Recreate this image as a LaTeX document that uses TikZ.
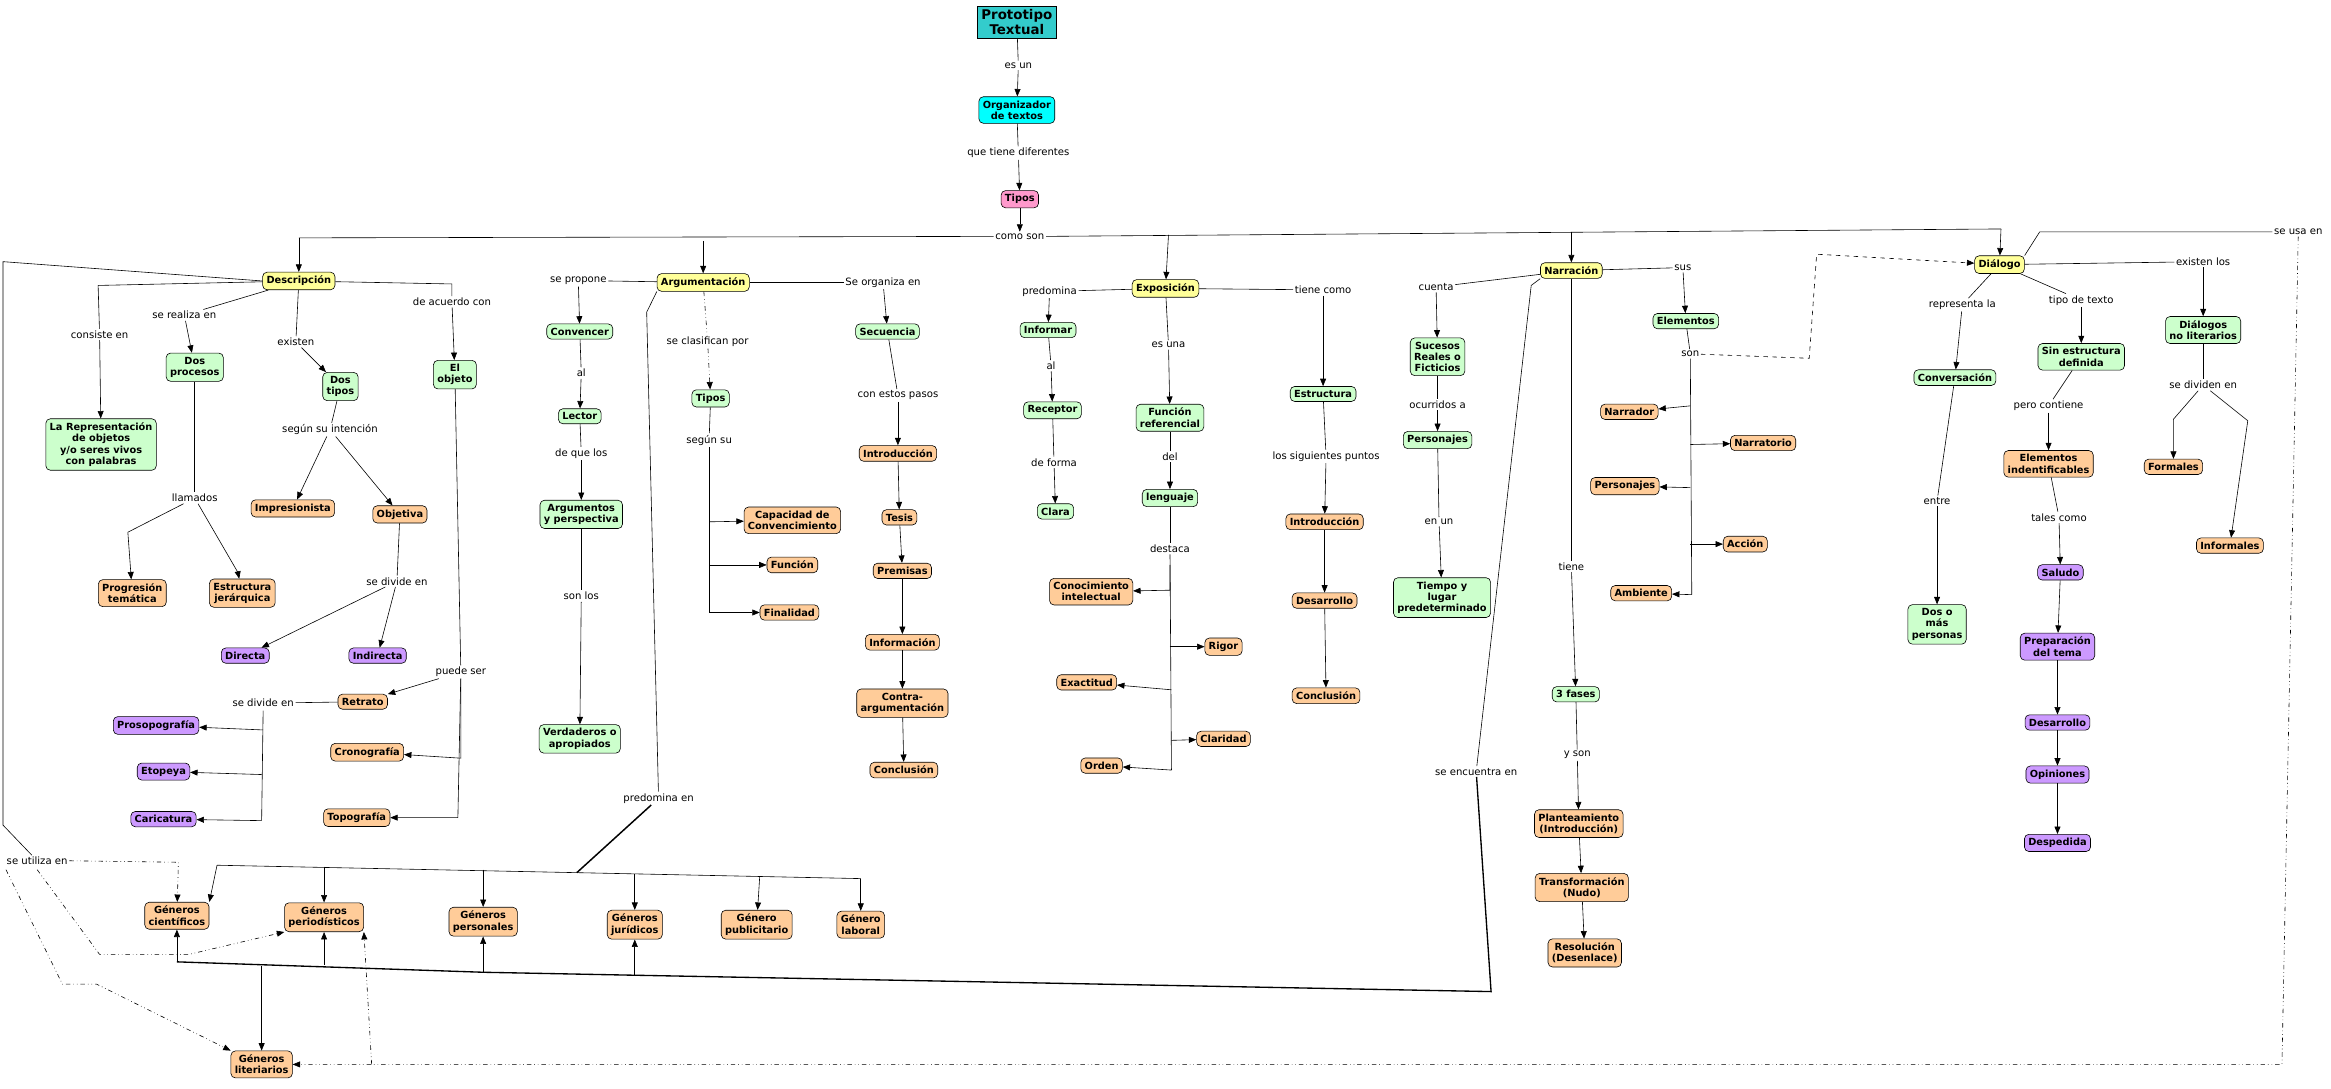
\documentclass[tikz,border=0pt]{standalone}
\usepackage{fontspec}
\setmainfont{DejaVu Sans}
\usetikzlibrary{arrows.meta}
\definecolor{cy}{HTML}{FFFF99}
\definecolor{cg}{HTML}{CCFFCC}
\definecolor{co}{HTML}{FFCC99}
\definecolor{cp}{HTML}{CC99FF}
\definecolor{cc}{HTML}{00FFFF}
\definecolor{cpk}{HTML}{FF99CC}
\definecolor{ct}{HTML}{33CCCC}
\begin{document}
\begin{tikzpicture}[x=1pt,y=-1pt,
 b/.style={draw,rounded corners=3pt,align=center,inner sep=2.6pt,font=\bfseries\fontsize{6.6}{7.6}\selectfont},
 Y/.style={b,fill=cy},G/.style={b,fill=cg},O/.style={b,fill=co},P/.style={b,fill=cp},
 l/.style={fill=white,inner sep=1pt,font=\fontsize{6.8}{8}\selectfont},
 a/.style={-{Triangle[length=5pt,width=4pt]}},
 dd/.style={dash dot dot}]
\useasboundingbox (0,0) rectangle (1568,732);
% top
\node[b,fill=ct,rounded corners=0,font=\bfseries\fontsize{9}{10}\selectfont] (title) at (684,15) {Prototipo\\Textual};
\node[b,fill=cc] (org) at (684,74) {Organizador\\de textos};
\node[b,fill=cpk] (tipos) at (686,134) {Tipos};
\node[l] (esun) at (685,44) {es un};
\node[l] (qtd) at (685,103) {que tiene diferentes};
\node[l] (comoson) at (686,159) {como son};
\draw (title) -- (esun); \draw[a] (esun) -- (org);
\draw (org) -- (qtd); \draw[a] (qtd) -- (tipos);
\draw[a] (tipos) -- (comoson);
% main nodes
\node[Y] (desc) at (201,189) {Descripción};
\node[Y] (arg) at (473,190) {Argumentación};
\node[Y] (exp) at (784,194) {Exposición};
\node[Y] (nar) at (1057,182) {Narración};
\node[Y] (dia) at (1345,178) {Diálogo};
\draw (comoson.west) -- (201,160); \draw[a] (201,160) -- (desc);
\draw (comoson.east) -- (1346,154);
\draw[a] (473,162) -- (arg); \draw[a] (786,158) -- (exp); \draw[a] (1057,156) -- (nar); \draw[a] (1346,154) -- (dia);
\node[l] (seusa) at (1546,156) {se usa en};
\draw (dia.north east) -- (1372,156) -- (seusa);
% ---------- Descripción
\node[G] (rep) at (68,299) {La Representación\\de objetos\\y/o seres vivos\\con palabras};
\node[G] (dosp) at (131,247) {Dos\\procesos};
\node[G] (dost) at (229,260) {Dos\\tipos};
\node[G] (obj) at (306,252) {El\\objeto};
\node[l] (consiste) at (67,225) {consiste en};
\node[l] (serealiza) at (124,212) {se realiza en};
\node[l] (existen) at (199,230) {existen};
\node[l] (deacuerdo) at (304,203) {de acuerdo con};
\draw (desc) -- (66,192) -- (consiste); \draw[a] (consiste) -- (rep);
\draw (desc) -- (serealiza); \draw[a] (serealiza) -- (dosp);
\draw (desc) -- (existen); \draw[a] (existen) -- (dost);
\draw (desc) -- (304,191) -- (deacuerdo); \draw[a] (deacuerdo) -- (obj);
\node[O] (prog) at (89,399) {Progresión\\temática};
\node[O] (estj) at (163,399) {Estructura\\jerárquica};
\node[l] (llamados) at (131,335) {llamados};
\draw (dosp) -- (llamados); \draw[a] (llamados) -- (86,358) -- (prog); \draw[a] (llamados) -- (160,385) -- (estj);
\node[O] (imp) at (197,342) {Impresionista};
\node[O] (objv) at (269,346) {Objetiva};
\node[l] (segint) at (222,289) {según su intención};
\draw (dost) -- (segint); \draw[a] (segint) -- (imp); \draw[a] (segint) -- (objv);
\node[P] (dir) at (165,441) {Directa};
\node[P] (ind) at (254,441) {Indirecta};
\node[l] (sediv) at (267,391) {se divide en};
\draw (objv) -- (sediv); \draw[a] (sediv) -- (dir); \draw[a] (sediv) -- (ind);
\node[O] (ret) at (244,472) {Retrato};
\node[O] (cro) at (247,506) {Cronografía};
\node[O] (top) at (240,550) {Topografía};
\node[l] (puede) at (310,452) {puede ser};
\draw (obj) -- (puede); \draw[a] (puede) -- (ret); \draw[a] (puede) -- (310,510) -- (cro); \draw[a] (puede) -- (308,550) -- (top);
\node[P] (pros) at (105,488) {Prosopografía};
\node[P] (eto) at (110,519) {Etopeya};
\node[P] (car) at (110,551) {Caricatura};
\node[l] (sediv2) at (177,473) {se divide en};
\draw (ret) -- (sediv2); \draw (177,478) -- (176,552);
\draw[a] (177,491) -- (pros); \draw[a] (176,521) -- (eto); \draw[a] (176,552) -- (car);
% ---------- Géneros
\node[O] (gcie) at (119,616) {Géneros\\científicos};
\node[O] (gper) at (218,617) {Géneros\\periodísticos};
\node[O] (gpers) at (325,620) {Géneros\\personales};
\node[O] (gjur) at (427,622) {Géneros\\jurídicos};
\node[O] (gpub) at (509,622) {Género\\publicitario};
\node[O] (glab) at (579,622) {Género\\laboral};
\node[O] (glit) at (176,716) {Géneros\\literiarios};
\node[l] (seutil) at (25,579) {se utiliza en};
\draw (desc.west) -- (2,176) -- (2,555) -- (seutil);
\draw[dd,a] (seutil.east) -- (120,580) -- (gcie);
\draw[dd,a] (25,585) -- (67,642) -- (127,642) -- (gper.south west);
\draw[dd,a] (4,585) -- (42,662) -- (65,662) -- (glit.north west);
\draw[dd,a] (seusa) -- (1535,716) -- (glit);
\draw[dd,a] (250,716) -- (gper.south east);
% ---------- Argumentación
\node[G] (conv) at (390,223) {Convencer};
\node[G] (lect) at (390,280) {Lector};
\node[G] (argp) at (391,346) {Argumentos\\y perspectiva};
\node[G] (verd) at (390,497) {Verdaderos o\\apropiados};
\node[l] (sepro) at (389,189) {se propone};
\node[l] (al1) at (391,251) {al};
\node[l] (deque) at (391,305) {de que los};
\node[l] (sonlos) at (391,401) {son los};
\draw (arg) -- (sepro.east); \draw[a] (sepro) -- (conv);
\draw (conv) -- (al1); \draw[a] (al1) -- (lect);
\draw (lect) -- (deque); \draw[a] (deque) -- (argp);
\draw (argp) -- (sonlos); \draw[a] (sonlos) -- (verd);
\node[G] (tip2) at (478,268) {Tipos};
\node[l] (seclas) at (476,230) {se clasifican por};
\node[l] (segsu) at (477,296) {según su};
\draw[dd] (arg) -- (seclas); \draw[dd,a] (seclas) -- (tip2);
\node[O] (cap) at (533,350) {Capacidad de\\Convencimiento};
\node[O] (fun) at (533,380) {Función};
\node[O] (fin) at (531,412) {Finalidad};
\draw (tip2) -- (segsu); \draw (477,301) -- (477,412);
\draw[a] (477,351) -- (cap); \draw[a] (477,380) -- (fun); \draw[a] (477,412) -- (fin);
\node[G] (sec) at (597,223) {Secuencia};
\node[l] (seorg) at (594,190) {Se organiza en};
\draw (arg) -- (seorg); \draw[a] (seorg) -- (sec);
\node[l] (conest) at (604,266) {con estos pasos};
\node[O] (intro) at (604,305) {Introducción};
\node[O] (tesis) at (605,348) {Tesis};
\node[O] (prem) at (607,384) {Premisas};
\node[O] (info) at (607,432) {Información};
\node[O] (contra) at (607,473) {Contra-\\argumentación};
\node[O] (concl) at (608,518) {Conclusión};
\draw (sec) -- (conest); \draw[a] (conest) -- (intro);
\draw[a] (intro) -- (tesis); \draw[a] (tesis) -- (prem); \draw[a] (prem) -- (info); \draw[a] (info) -- (contra); \draw[a] (contra) -- (concl);
\node[l] (predom) at (443,537) {predomina en};
\draw (arg.south west) -- (435,210) -- (predom); \draw[line width=1pt] (predom) -- (388,587);
\draw (146,582) -- (388,587) -- (579,591);
\draw[a] (146,582) -- (gcie.north east); \draw[a] (218,583) -- (gper); \draw[a] (325,585) -- (gpers);
\draw[a] (427,588) -- (gjur); \draw[a] (511,590) -- (gpub); \draw[a] (579,591) -- (glab);
% ---------- Exposición
\node[G] (inf) at (705,222) {Informar};
\node[G] (rec) at (708,276) {Receptor};
\node[G] (cla) at (710,344) {Clara};
\node[l] (predo2) at (706,196) {predomina};
\node[l] (al2) at (707,246) {al};
\node[l] (defor) at (709,311) {de forma};
\draw (exp) -- (predo2); \draw[a] (predo2) -- (inf);
\draw (inf) -- (al2); \draw[a] (al2) -- (rec);
\draw (rec) -- (defor); \draw[a] (defor) -- (cla);
\node[G] (fref) at (787,281) {Función\\referencial};
\node[G] (leng) at (787,335) {lenguaje};
\node[l] (esuna) at (786,232) {es una};
\node[l] (del) at (787,307) {del};
\node[l] (dest) at (787,369) {destaca};
\draw (exp) -- (esuna); \draw[a] (esuna) -- (fref);
\draw (fref) -- (del); \draw[a] (del) -- (leng);
\draw (leng) -- (dest);
\node[O] (conint) at (734,398) {Conocimiento\\intelectual};
\node[O] (rig) at (823,435) {Rigor};
\node[O] (exa) at (731,459) {Exactitud};
\node[O] (clar) at (823,497) {Claridad};
\node[O] (ord) at (741,515) {Orden};
\draw (dest) -- (788,518);
\draw[a] (787,380) -- (787,397) -- (conint); \draw[a] (787,435) -- (rig); \draw[a] (788,464) -- (exa);
\draw[a] (788,498) -- (clar); \draw[a] (788,518) -- (ord);
\node[G] (est) at (890,265) {Estructura};
\node[l] (tienec) at (890,195) {tiene como};
\node[l] (lossig) at (892,307) {los siguientes puntos};
\draw (exp) -- (tienec); \draw[a] (tienec) -- (est);
\node[O] (in2) at (891,351) {Introducción};
\node[O] (des2) at (891,404) {Desarrollo};
\node[O] (con2) at (892,468) {Conclusión};
\draw (est) -- (lossig); \draw[a] (lossig) -- (in2); \draw[a] (in2) -- (des2); \draw[a] (des2) -- (con2);
% ---------- Narración
\node[G] (suc) at (967,240) {Sucesos\\Reales o\\Ficticios};
\node[G] (pers) at (967,296) {Personajes};
\node[G] (tyl) at (970,402) {Tiempo y\\lugar\\predeterminado};
\node[l] (cuenta) at (966,193) {cuenta};
\node[l] (ocurr) at (967,272) {ocurridos a};
\node[l] (enun) at (968,351) {en un};
\draw (nar) -- (cuenta); \draw[a] (cuenta) -- (suc);
\draw (suc) -- (ocurr); \draw[a] (ocurr) -- (pers);
\draw (pers) -- (enun); \draw[a] (enun) -- (tyl);
\node[G] (elem) at (1134,216) {Elementos};
\node[l] (sus) at (1132,180) {sus};
\node[l] (son) at (1137,238) {son};
\draw (nar) -- (sus); \draw[a] (sus) -- (elem);
\draw (elem) -- (son); \draw (son) -- (1138,400);
\node[O] (narr) at (1096,277) {Narrador};
\node[O] (nrt) at (1186,298) {Narratorio};
\node[O] (per2) at (1093,327) {Personajes};
\node[O] (acc) at (1174,366) {Acción};
\node[O] (amb) at (1104,399) {Ambiente};
\draw[a] (1137,273) -- (narr); \draw[a] (1137,299) -- (nrt); \draw[a] (1137,328) -- (per2);
\draw[a] (1137,366) -- (acc); \draw[a] (1138,400) -- (amb);
\draw[dashed,a] (son) -- (1217,241) -- (1222,171) -- (dia);
\node[G] (fases) at (1060,467) {3 fases};
\node[l] (tiene) at (1057,381) {tiene};
\node[l] (yson) at (1061,508) {y son};
\draw (nar) -- (tiene); \draw[a] (tiene) -- (fases);
\node[O] (plan) at (1062,554) {Planteamiento\\(Introducción)};
\node[O] (tra) at (1064,597) {Transformación\\(Nudo)};
\node[O] (res) at (1066,641) {Resolución\\(Desenlace)};
\draw (fases) -- (yson); \draw[a] (yson) -- (plan); \draw[a] (plan) -- (tra); \draw[a] (tra) -- (res);
\node[l] (seenc) at (993,519) {se encuentra en};
\draw (nar.south west) -- (1030,192) -- (seenc);
\draw[line width=0.9pt] (seenc) -- (1003,667) -- (427,656) -- (325,654) -- (119,647);
\draw[a] (119,647) -- (gcie); \draw[a] (218,649) -- (gper); \draw[a] (325,654) -- (gpers); \draw[a] (427,656) -- (gjur);
\draw[a] (176,650) -- (glit);
% ---------- Diálogo
\node[G] (conv2) at (1315,254) {Conversación};
\node[G] (dos) at (1303,420) {Dos o\\más\\personas};
\node[l] (repla) at (1320,205) {representa la};
\node[l] (entre) at (1303,337) {entre};
\draw (dia) -- (repla); \draw[a] (repla) -- (conv2);
\draw (conv2) -- (entre); \draw[a] (entre) -- (dos);
\node[G] (sin) at (1400,240) {Sin estructura\\definida};
\node[l] (tipot) at (1400,202) {tipo de texto};
\node[l] (pero) at (1378,273) {pero contiene};
\node[O] (elid) at (1378,312) {Elementos\\indentificables};
\node[l] (tales) at (1385,348) {tales como};
\draw (dia) -- (tipot); \draw[a] (tipot) -- (sin);
\draw (sin) -- (pero); \draw[a] (pero) -- (elid);
\draw (elid) -- (tales);
\node[P] (sal) at (1386,385) {Saludo};
\node[P] (prep) at (1384,435) {Preparación\\del tema};
\node[P] (des3) at (1384,486) {Desarrollo};
\node[P] (opi) at (1384,521) {Opiniones};
\node[P] (desp) at (1384,567) {Despedida};
\draw[a] (tales) -- (sal); \draw[a] (sal) -- (prep); \draw[a] (prep) -- (des3); \draw[a] (des3) -- (opi); \draw[a] (opi) -- (desp);
\node[G] (dnl) at (1482,222) {Diálogos\\no literarios};
\node[l] (exlos) at (1482,176) {existen los};
\node[l] (sediv3) at (1482,259) {se dividen en};
\node[O] (form) at (1462,314) {Formales};
\node[O] (infor) at (1500,367) {Informales};
\draw (dia) -- (exlos); \draw[a] (exlos) -- (dnl);
\draw (dnl) -- (sediv3); \draw[a] (sediv3) -- (1462,282) -- (form); \draw[a] (sediv3) -- (1512,283) -- (infor);
\end{tikzpicture}
\end{document}
